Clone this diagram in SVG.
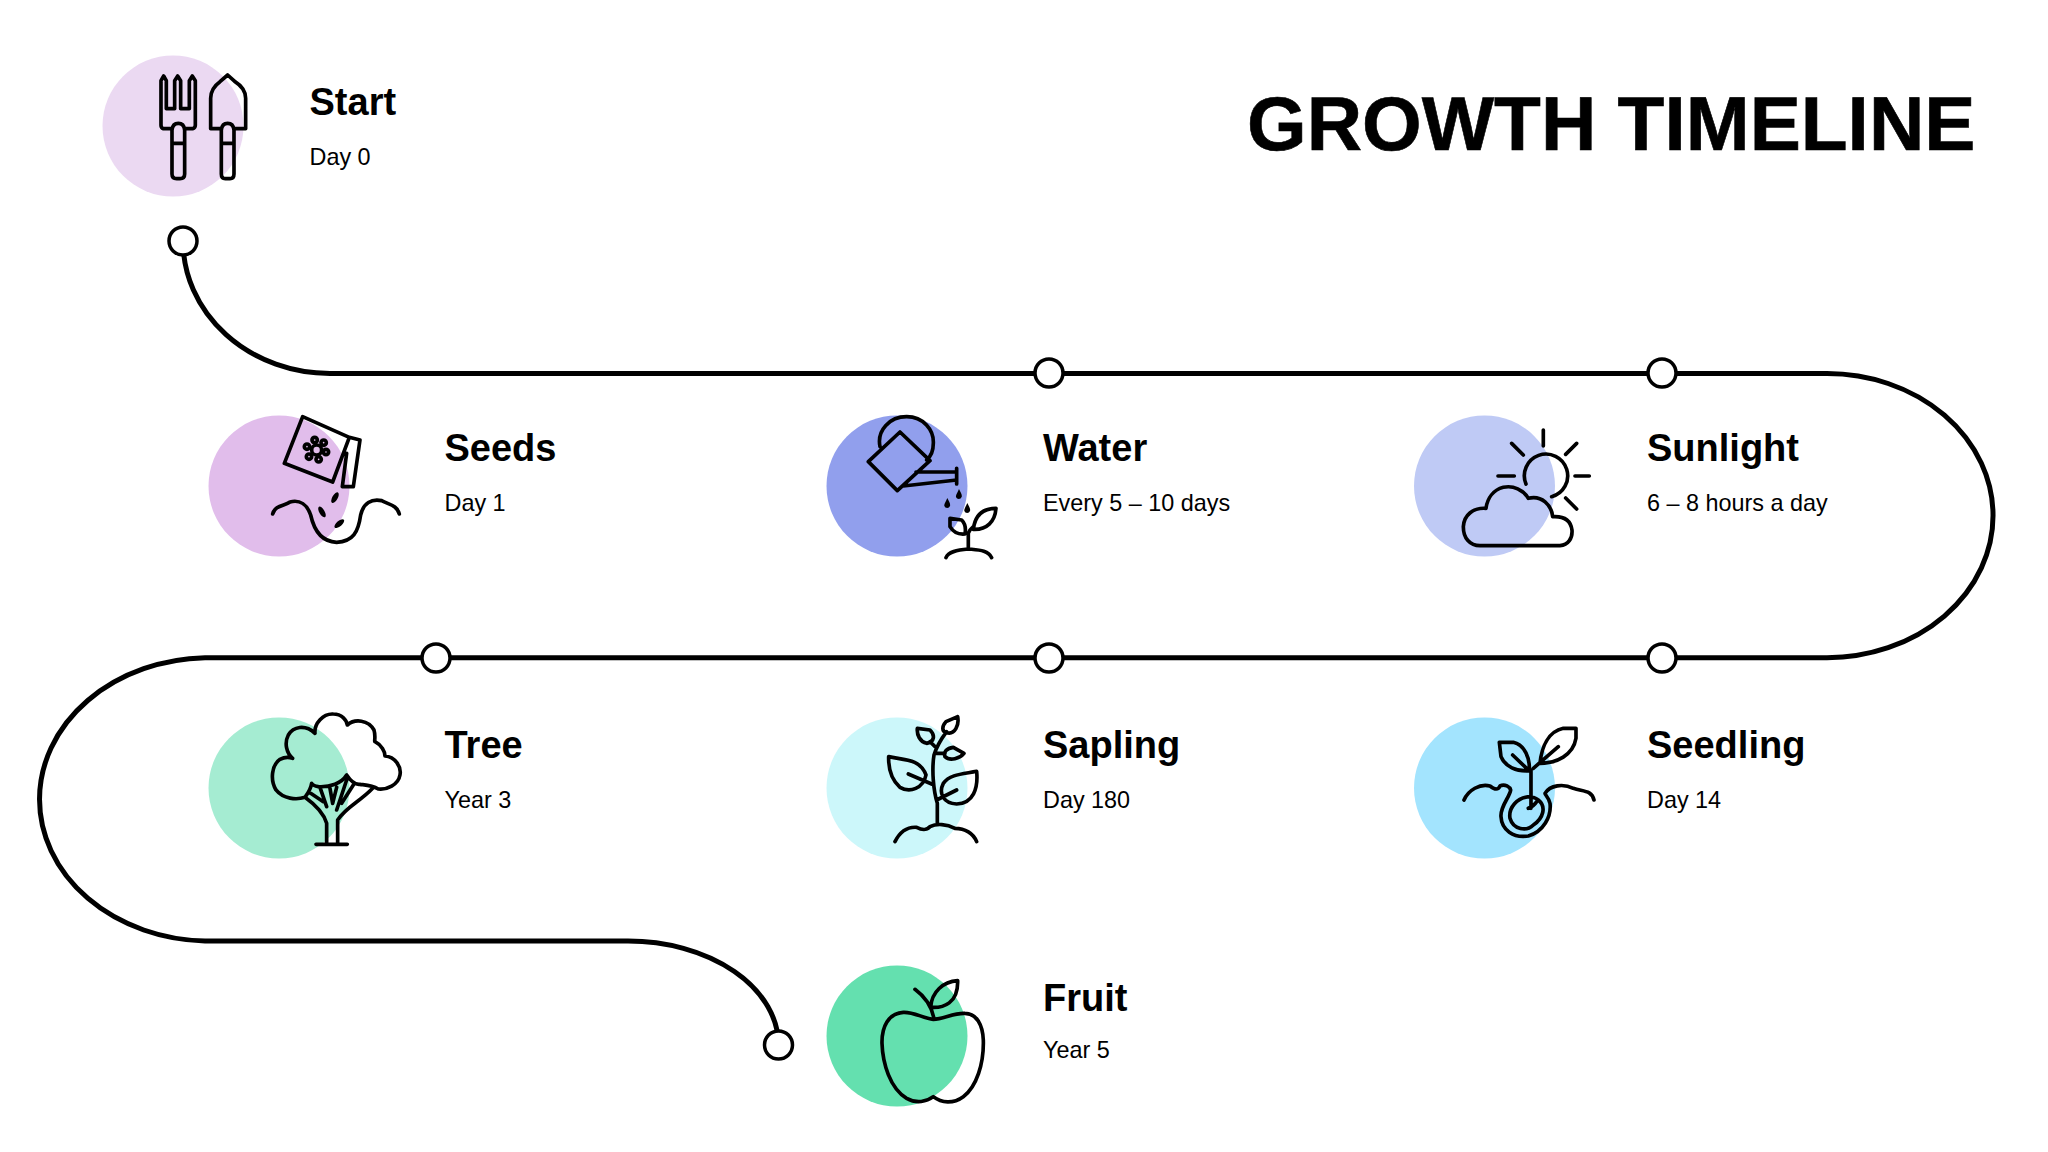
<svg xmlns="http://www.w3.org/2000/svg" width="2048" height="1152" viewBox="0 0 2048 1152">
<style>
text{font-family:"Liberation Sans",Arial,sans-serif;fill:#000}
.t{font-size:38px;font-weight:700}
.s{font-size:23.400px}
.title{font-size:76.700px;font-weight:700;stroke:#000;stroke-width:.6px}
.i{fill:none;stroke:#000;stroke-width:11;stroke-linecap:round;stroke-linejoin:round}
.f{fill:#000;stroke:none}
.d{fill:#fff;stroke:#000;stroke-width:3.500}
.c{fill:none;stroke:#000;stroke-width:5}
</style>
<rect width="2048" height="1152" fill="#fff"/>
<text class="title" x="1247" y="150">GROWTH TIMELINE</text>
<g id="connectors">
<path class="c" d="M183 241 A147 132.500 0 0 0 330 373.500 H1827 A166 142 0 0 1 1827 657.700 H205 A170 141.700 0 0 0 205 941 H628 A150.500 104 0 0 1 778.500 1045"/>
<circle class="d" cx="183" cy="241" r="14"/>
<circle class="d" cx="1049" cy="373" r="14"/>
<circle class="d" cx="1662" cy="373" r="14"/>
<circle class="d" cx="1662" cy="658" r="14"/>
<circle class="d" cx="1049" cy="658" r="14"/>
<circle class="d" cx="436" cy="658" r="14"/>
<circle class="d" cx="778.500" cy="1045" r="14"/>
</g>
<g id="start">
<circle cx="173" cy="126" r="70.500" fill="#ebd9f2"/>
<g transform="translate(80 30) scale(.3333)"><path class="i" d="M272 296 L250 296 Q243 294 243 286 V152 L251 138 L259 152 V236 H284 V152 L293 138 L302 152 V236 H328 V152 L337 138 L346 152 V286 Q346 294 338 296 H316 M276 340 V432 Q276 446 290 446 H300 Q314 446 314 432 V300 Q312 280 295 280 Q278 280 276 300 V340 H314 M392 296 V205 Q392 175 420 155 L443 135 L465 155 Q497 175 497 205 V296 H462 M424 296 H392 M424 340 V300 Q426 280 443 280 Q460 280 462 300 V432 Q462 446 450 446 H436 Q424 446 424 432 V340 H462"/></g>
<text class="t" x="309.500" y="115">Start</text>
<text class="s" x="309.500" y="165">Day 0</text>
</g>
<g id="seeds">
<circle cx="279" cy="486" r="70.500" fill="#e1bdeb"/>
<g transform="translate(190 400) scale(.3333)"><path class="i" d="M338 50 L478 112 L428 246 L283 190 Z M478 112 L510 120 L490 260 H457 L470 160 M248 342 C255 315 285 318 300 306 C330 298 352 315 362 345 C372 390 395 425 440 427 C490 425 505 395 512 345 C520 310 545 295 575 302 C600 315 620 315 628 342"/>
<g class="i"><circle cx="380" cy="150" r="15"/><circle cx="374" cy="120" r="8"/><circle cx="401" cy="128" r="8"/><circle cx="408" cy="156" r="8"/><circle cx="386" cy="178" r="8"/><circle cx="357" cy="170" r="8"/><circle cx="351" cy="140" r="8"/></g>
<ellipse class="f" cx="435" cy="293" rx="18" ry="8" transform="rotate(-60 435 293)"/><ellipse class="f" cx="396" cy="336" rx="18" ry="8" transform="rotate(60 396 336)"/><ellipse class="f" cx="448" cy="371" rx="18" ry="8" transform="rotate(-40 448 371)"/></g>
<text class="t" x="444.500" y="461">Seeds</text>
<text class="s" x="444.500" y="511">Day 1</text>
</g>
<g id="water">
<circle cx="897" cy="486" r="70.500" fill="#919fed"/>
<g transform="translate(810 400) scale(.3333)"><path class="i" d="M175 185 L270 96 L360 182 L262 272 Z M210 140 C200 90 240 50 290 50 C340 50 372 90 370 130 C370 150 362 170 350 180 M318 216 H440 M280 258 L440 240 M440 205 V252 M475 445 V400 Q478 390 490 380 M420 355 L455 360 Q470 375 465 402 Q435 405 420 380 Z M558 325 C520 325 495 345 490 388 C530 390 555 365 558 325 Z M408 473 C415 455 440 450 475 447 C505 450 535 450 545 473"/>
<path class="f" d="M412 294 C418 306 422 312 420 318 A9 9 0 0 1 403 318 C402 312 407 306 412 294 Z M447 267 C453 279 457 285 455 291 A9 9 0 0 1 438 291 C437 285 442 279 447 267 Z M472 309 C478 321 482 327 480 333 A9 9 0 0 1 463 333 C462 327 467 321 472 309 Z"/></g>
<text class="t" x="1043" y="461">Water</text>
<text class="s" x="1043" y="511">Every 5 – 10 days</text>
</g>
<g id="sunlight">
<circle cx="1484.500" cy="486" r="70.500" fill="#bfcaf5"/>
<g transform="translate(1400 410) scale(.3333)"><path class="i" d="M378 222 A65 65 0 1 1 455 260 M430 60 V108 M335 100 L370 135 M530 100 L497 133 M294 198 H343 M525 198 H568 M497 264 L530 297 M240 407 H480 C505 405 518 385 516 360 C512 330 490 318 458 320 C455 285 425 255 385 265 C370 240 340 225 310 232 C280 240 262 265 258 295 C220 292 192 315 190 350 C190 385 210 407 240 407 Z"/></g>
<text class="t" x="1647" y="461">Sunlight</text>
<text class="s" x="1647" y="511">6 – 8 hours a day</text>
</g>
<g id="seedling">
<circle cx="1484.500" cy="788" r="70.500" fill="#a3e4fe"/>
<g transform="translate(1400 700) scale(.3333)"><path class="i" d="M298 127 H340 C375 135 390 175 388 212 C350 215 315 200 303 170 Z M338 165 L385 210 M528 85 H490 C445 95 425 140 420 190 C470 190 520 165 528 115 Z M475 140 L400 205 M393 325 V210 M393 290 C350 290 325 325 330 355 C340 390 380 395 400 375 C430 355 440 320 415 300 C410 295 405 293 393 290 M385 325 Q400 320 410 305 M192 300 C205 270 240 250 270 258 C285 270 295 270 300 258 C315 250 330 262 332 270 C330 290 300 320 303 350 C305 390 340 415 385 408 C430 395 455 350 450 310 C445 290 435 285 435 280 C450 255 490 250 520 265 C550 275 575 270 582 300"/></g>
<text class="t" x="1647" y="758">Seedling</text>
<text class="s" x="1647" y="808">Day 14</text>
</g>
<g id="sapling">
<circle cx="897" cy="788" r="70.500" fill="#ccf7fa"/>
<g transform="translate(810 700) scale(.3333)"><path class="i" d="M382 370 V310 C370 270 365 210 372 165 C380 140 395 115 410 95 M236 170 C280 180 330 175 348 225 C340 265 300 280 270 262 C245 240 235 205 236 170 Z M295 222 L365 252 M500 214 C460 222 420 222 400 250 C385 280 400 310 440 312 C490 310 505 265 500 214 Z M440 270 L380 300 M443 50 L408 65 C395 80 395 95 410 98 C435 105 448 75 443 50 Z M322 85 L360 90 C375 105 375 125 350 130 C330 125 320 105 322 85 Z M462 160 L430 142 C410 145 400 155 405 170 C420 185 450 175 462 160 Z M375 160 H405 M360 125 L380 145 M255 425 C270 395 290 380 320 382 C340 392 350 390 360 380 C380 370 410 372 435 385 C465 385 490 400 500 425"/></g>
<text class="t" x="1043" y="758">Sapling</text>
<text class="s" x="1043" y="808">Day 180</text>
</g>
<g id="tree">
<circle cx="279" cy="788" r="70.500" fill="#a5ecd2"/>
<g transform="translate(190 700) scale(.3333)"><path class="i" d="M345 292 C320 300 280 298 258 270 C240 240 245 195 270 178 C285 170 300 172 308 175 C290 160 282 130 295 105 C310 80 345 72 375 100 C372 70 400 40 430 42 C455 42 470 60 472 75 C495 55 535 60 552 90 C558 110 552 125 555 125 C575 135 585 155 585 168 C615 170 635 200 630 225 C625 255 590 270 565 267 C545 255 525 255 510 253 C495 255 480 240 470 225 C455 250 420 262 385 260 C375 258 368 255 365 250 C362 270 350 285 345 292 M410 430 V370 C400 335 370 310 345 292 M443 430 V360 C470 320 510 305 548 265 M378 433 H472 M362 280 L400 305 M390 262 L410 320 M420 265 L428 310 L440 262 M470 240 L440 330 M490 255 L455 310"/></g>
<text class="t" x="444.500" y="758">Tree</text>
<text class="s" x="444.500" y="808">Year 3</text>
</g>
<g id="fruit">
<circle cx="897" cy="1036" r="70.500" fill="#64e0af"/>
<g transform="translate(810 950) scale(.3333)"><path class="i" d="M370 208 C340 205 310 185 280 187 C235 190 215 230 216 280 C218 340 240 415 290 445 C320 462 350 455 370 440 C395 460 430 462 460 440 C500 410 522 340 520 270 C518 225 500 190 465 190 C430 188 400 208 370 208 Z M372 205 C365 170 345 140 315 118 M443 92 C400 95 365 125 362 172 C400 175 445 160 443 92 Z"/></g>
<text class="t" x="1043" y="1011">Fruit</text>
<text class="s" x="1043" y="1058">Year 5</text>
</g>
</svg>
